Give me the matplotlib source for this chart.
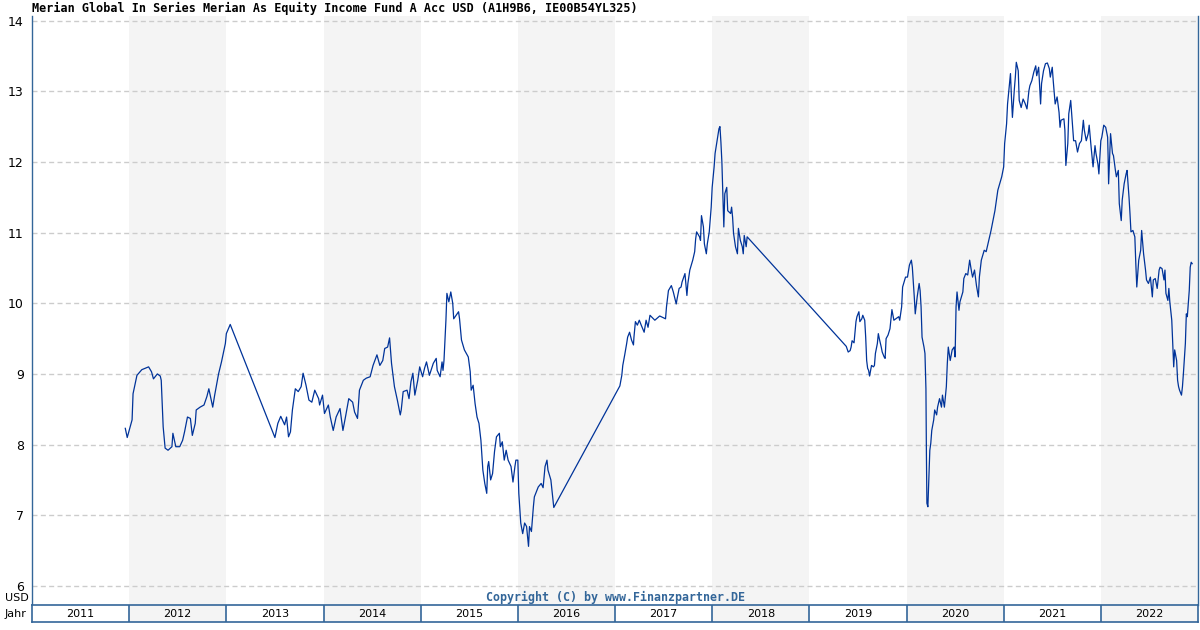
import matplotlib
matplotlib.use("Agg")
import matplotlib.pyplot as plt

TITLE = "Merian Global In Series Merian As Equity Income Fund A Acc USD (A1H9B6, IE00B54YL325)"
COPYRIGHT = "Copyright (C) by www.Finanzpartner.DE"
YEARS = [2011, 2012, 2013, 2014, 2015, 2016, 2017, 2018, 2019, 2020, 2021, 2022]
Y_TICKS = [6, 7, 8, 9, 10, 11, 12, 13, 14]

# price in USD against decimal year
dates = [
    2011.96, 2011.98, 2012.03, 2012.04, 2012.08, 2012.13, 2012.20, 2012.23, 2012.25, 2012.29,
    2012.32, 2012.33, 2012.35, 2012.37, 2012.40, 2012.44, 2012.45, 2012.48, 2012.52, 2012.55,
    2012.57, 2012.60, 2012.63, 2012.65, 2012.68, 2012.69, 2012.73, 2012.77, 2012.80, 2012.82,
    2012.86, 2012.88, 2012.92, 2012.95, 2012.99, 2013.00, 2013.04,
    2013.50, 2013.53, 2013.56, 2013.60, 2013.62, 2013.64, 2013.66, 2013.68, 2013.71, 2013.74,
    2013.77, 2013.79, 2013.82, 2013.85, 2013.88, 2013.91, 2013.95, 2013.96, 2013.99, 2014.01,
    2014.05, 2014.07, 2014.10, 2014.13, 2014.17, 2014.20, 2014.23, 2014.26, 2014.30, 2014.32,
    2014.35, 2014.37, 2014.41, 2014.44, 2014.48, 2014.51, 2014.55, 2014.58, 2014.61, 2014.63,
    2014.66, 2014.68, 2014.70, 2014.73, 2014.76, 2014.79, 2014.80, 2014.82, 2014.86, 2014.88,
    2014.90, 2014.92, 2014.94, 2014.97, 2014.99, 2015.02, 2015.04, 2015.06, 2015.09, 2015.13,
    2015.16, 2015.17, 2015.20, 2015.22, 2015.23, 2015.24, 2015.25, 2015.26, 2015.27, 2015.29,
    2015.31, 2015.33, 2015.34, 2015.39, 2015.40, 2015.42, 2015.45, 2015.49, 2015.51, 2015.52,
    2015.54, 2015.56, 2015.58, 2015.60, 2015.62, 2015.64, 2015.66, 2015.68, 2015.69, 2015.70,
    2015.72, 2015.74, 2015.76, 2015.78, 2015.81, 2015.82, 2015.84, 2015.86, 2015.88, 2015.90,
    2015.93, 2015.95, 2015.97, 2015.98, 2016.00, 2016.01, 2016.03, 2016.05, 2016.07, 2016.09,
    2016.11, 2016.12, 2016.14, 2016.16, 2016.17, 2016.21, 2016.24, 2016.26, 2016.28, 2016.30,
    2016.31, 2016.34, 2016.36, 2016.37,
    2017.05, 2017.07, 2017.08, 2017.10, 2017.12, 2017.13, 2017.15, 2017.17, 2017.19, 2017.195,
    2017.21, 2017.23, 2017.25, 2017.27, 2017.30, 2017.32, 2017.34, 2017.36, 2017.41, 2017.46,
    2017.52, 2017.53, 2017.55, 2017.58, 2017.60, 2017.63, 2017.64, 2017.66, 2017.68, 2017.69,
    2017.72, 2017.74, 2017.75, 2017.77, 2017.80, 2017.82, 2017.83, 2017.84, 2017.87, 2017.88,
    2017.89, 2017.91, 2017.92, 2017.94, 2017.95, 2017.97, 2017.99, 2018.00, 2018.02, 2018.03,
    2018.05, 2018.07, 2018.08, 2018.09, 2018.10, 2018.11, 2018.12, 2018.13, 2018.15, 2018.16,
    2018.19, 2018.20, 2018.21, 2018.22, 2018.24, 2018.26, 2018.27, 2018.29, 2018.31, 2018.32,
    2018.33, 2018.35, 2018.36,
    2019.38, 2019.40, 2019.42, 2019.43, 2019.44, 2019.46, 2019.47, 2019.48, 2019.49, 2019.51,
    2019.52, 2019.54, 2019.55, 2019.57, 2019.58, 2019.59, 2019.60, 2019.61, 2019.62, 2019.64,
    2019.66, 2019.67, 2019.68, 2019.70, 2019.71, 2019.72, 2019.74, 2019.75, 2019.77, 2019.78,
    2019.79, 2019.81, 2019.83, 2019.84, 2019.85, 2019.87, 2019.89, 2019.92, 2019.93, 2019.95,
    2019.96, 2019.99, 2020.01, 2020.03, 2020.05, 2020.06, 2020.08, 2020.09, 2020.11, 2020.13,
    2020.14, 2020.15, 2020.16, 2020.18, 2020.19, 2020.20, 2020.205, 2020.21, 2020.22, 2020.23,
    2020.24, 2020.25, 2020.26, 2020.28, 2020.29, 2020.31, 2020.32, 2020.34, 2020.36, 2020.37,
    2020.39, 2020.41, 2020.42, 2020.43, 2020.45, 2020.47, 2020.49, 2020.50, 2020.51, 2020.52,
    2020.54, 2020.55, 2020.58, 2020.59, 2020.61, 2020.63, 2020.65, 2020.67, 2020.68, 2020.70,
    2020.72, 2020.74, 2020.75, 2020.77, 2020.79, 2020.80, 2020.82, 2020.85, 2020.87, 2020.91,
    2020.94, 2020.98, 2021.00, 2021.01, 2021.03, 2021.04, 2021.06, 2021.07, 2021.08, 2021.09,
    2021.11, 2021.12, 2021.13, 2021.15, 2021.16, 2021.18, 2021.20, 2021.22, 2021.24, 2021.26,
    2021.27, 2021.29, 2021.31, 2021.33, 2021.34, 2021.36, 2021.38, 2021.39, 2021.41, 2021.43,
    2021.45, 2021.47, 2021.48, 2021.50, 2021.51, 2021.53, 2021.55, 2021.57, 2021.58, 2021.59,
    2021.62, 2021.63, 2021.64, 2021.66, 2021.67, 2021.69, 2021.71, 2021.72, 2021.74, 2021.76,
    2021.78, 2021.80, 2021.82, 2021.83, 2021.85, 2021.87, 2021.88, 2021.90, 2021.92, 2021.94,
    2021.95, 2021.97, 2021.98, 2022.00, 2022.01, 2022.03, 2022.05, 2022.07, 2022.075, 2022.08,
    2022.10, 2022.12, 2022.13, 2022.15, 2022.16, 2022.18, 2022.19, 2022.21, 2022.22, 2022.24,
    2022.26, 2022.27, 2022.29, 2022.30, 2022.31, 2022.33, 2022.35, 2022.36, 2022.37, 2022.39,
    2022.41, 2022.42, 2022.44, 2022.46, 2022.47, 2022.49, 2022.51, 2022.53, 2022.54, 2022.56,
    2022.58, 2022.60, 2022.61, 2022.63, 2022.65, 2022.66, 2022.67, 2022.69, 2022.70, 2022.71,
    2022.73, 2022.74, 2022.75, 2022.76, 2022.78, 2022.79, 2022.80, 2022.81, 2022.83, 2022.84,
    2022.85, 2022.87, 2022.88, 2022.89, 2022.91, 2022.92, 2022.93, 2022.94,
]
prices = [
    8.23, 8.10, 8.35, 8.72, 8.98, 9.06, 9.10, 9.03, 8.93, 9.00,
    8.97, 8.91, 8.25, 7.95, 7.92, 7.97, 8.16, 7.97, 7.97, 8.06,
    8.18, 8.39, 8.37, 8.13, 8.30, 8.49, 8.53, 8.56, 8.68, 8.79,
    8.53, 8.70, 9.00, 9.17, 9.43, 9.57, 9.70,
    8.10, 8.30, 8.40, 8.28, 8.39, 8.11, 8.18, 8.49, 8.79, 8.75,
    8.82, 9.01, 8.84, 8.63, 8.60, 8.77, 8.65, 8.56, 8.70, 8.44,
    8.56, 8.39, 8.20, 8.39, 8.51, 8.20, 8.42, 8.65, 8.60, 8.46,
    8.37, 8.77, 8.91, 8.94, 8.96, 9.12, 9.27, 9.12, 9.19, 9.36,
    9.38, 9.51, 9.15, 8.82, 8.63, 8.42, 8.49, 8.75, 8.77, 8.65,
    8.89, 9.01, 8.70, 8.91, 9.10, 8.96, 9.08, 9.17, 8.98, 9.15,
    9.22, 9.05, 8.96, 9.17, 9.05, 9.19, 9.48, 9.76, 10.14, 10.02,
    10.16, 10.00, 9.78, 9.88, 9.78, 9.48, 9.34, 9.24, 9.03, 8.77,
    8.84, 8.58, 8.39, 8.30, 8.06, 7.64, 7.45, 7.31, 7.69, 7.76,
    7.50, 7.59, 7.90, 8.11, 8.16, 7.97, 8.04, 7.78, 7.92, 7.78,
    7.69, 7.47, 7.69, 7.78, 7.78, 7.31, 6.89, 6.74, 6.89, 6.84,
    6.56, 6.84, 6.77, 7.12, 7.26, 7.40, 7.45, 7.39, 7.69, 7.78,
    7.64, 7.50, 7.24, 7.11,
    8.83, 8.98, 9.12, 9.27, 9.43, 9.52, 9.59, 9.48, 9.41, 9.52,
    9.74, 9.69, 9.76, 9.69, 9.59, 9.76, 9.66, 9.83, 9.76, 9.82,
    9.78, 9.95, 10.18, 10.25, 10.16, 9.99, 10.07, 10.21, 10.23, 10.30,
    10.42, 10.11, 10.28, 10.47, 10.61, 10.73, 10.91, 11.01, 10.94, 10.89,
    11.24, 11.08, 10.84, 10.70, 10.84, 11.01, 11.36, 11.64, 11.93, 12.12,
    12.30, 12.47, 12.50, 12.28, 12.00, 11.53, 11.08, 11.55, 11.64, 11.31,
    11.27, 11.36, 11.22, 10.99, 10.80, 10.70, 11.06, 10.89, 10.80, 10.70,
    10.96, 10.80, 10.94,
    9.39, 9.31, 9.33, 9.38, 9.47, 9.44, 9.59, 9.74, 9.81, 9.88,
    9.74, 9.78, 9.83, 9.76, 9.52, 9.19, 9.08, 9.05, 8.97, 9.12,
    9.10, 9.12, 9.29, 9.43, 9.57, 9.50, 9.38, 9.31, 9.24, 9.22,
    9.50, 9.55, 9.64, 9.78, 9.91, 9.76, 9.78, 9.81, 9.76, 9.95,
    10.23, 10.37, 10.37, 10.54, 10.61, 10.51, 10.09, 9.85, 10.09, 10.28,
    10.18, 9.95, 9.52, 9.38, 9.29, 8.79, 7.85, 7.17, 7.12, 7.50,
    7.92, 8.02, 8.20, 8.35, 8.49, 8.42, 8.53, 8.65, 8.53, 8.70,
    8.53, 8.82, 9.15, 9.38, 9.19, 9.34, 9.38, 9.24, 9.95, 10.16,
    9.90, 10.02, 10.16, 10.35, 10.42, 10.40, 10.61, 10.44, 10.37, 10.47,
    10.25, 10.09, 10.37, 10.61, 10.70, 10.75, 10.73, 10.91, 11.03, 11.31,
    11.60, 11.79, 11.93, 12.26, 12.54, 12.82, 13.11, 13.25, 12.92, 12.63,
    13.03, 13.20, 13.41, 13.29, 12.87, 12.77, 12.89, 12.83, 12.75, 13.01,
    13.08, 13.15, 13.27, 13.36, 13.22, 13.34, 12.82, 13.11, 13.29, 13.39,
    13.40, 13.32, 13.20, 13.34, 13.15, 12.82, 12.92, 12.70, 12.49, 12.59,
    12.61, 12.45, 11.95, 12.26, 12.68, 12.87, 12.49, 12.30, 12.30, 12.14,
    12.26, 12.30, 12.59, 12.45, 12.30, 12.40, 12.52, 12.21, 11.93, 12.23,
    12.12, 11.97, 11.83, 12.30, 12.35, 12.52, 12.49, 12.35, 12.07, 11.69,
    12.40, 12.12, 12.09, 11.88, 11.79, 11.88, 11.41, 11.17, 11.46, 11.69,
    11.83, 11.88, 11.50, 11.27, 11.01, 11.03, 10.94, 10.56, 10.23, 10.61,
    10.75, 11.03, 10.70, 10.47, 10.33, 10.28, 10.37, 10.09, 10.33, 10.35,
    10.21, 10.47, 10.51, 10.49, 10.33, 10.47, 10.14, 10.04, 10.21, 10.02,
    9.76, 9.43, 9.10, 9.34, 9.19, 8.91, 8.82, 8.77, 8.70, 8.82,
    9.01, 9.43, 9.85, 9.81, 10.18, 10.51, 10.58, 10.56,
]

FRAME = "#336699"
SHADE = "#f4f4f4"

fig = plt.figure(figsize=(12, 6.3), dpi=100)
ax = fig.add_axes([32 / 1200, 25 / 630, 1166 / 1200, 589 / 630])
band = fig.add_axes([32 / 1200, 8 / 630, 1166 / 1200, 17 / 630])

for a in (ax, band):
    a.set_xlim(2011, 2023)
    for y in YEARS:
        if (y - 2011) % 2 == 1:
            a.axvspan(y, y + 1, color=SHADE, lw=0, zorder=0)

ax.set_ylim(5.73, 14.065)
ax.set_yticks(Y_TICKS)
ax.set_yticklabels([str(t) for t in Y_TICKS], fontsize=9, family="DejaVu Sans")
ax.tick_params(axis="y", length=0, pad=6)
ax.set_xticks([])
ax.grid(axis="y", color="#cccccc", linestyle=(0, (3.6, 2.4)), linewidth=1)
ax.set_axisbelow(True)
for s in ("top", "bottom"):
    ax.spines[s].set_visible(False)
for s in ("left", "right"):
    ax.spines[s].set_color(FRAME)
    ax.spines[s].set_linewidth(1)

ax.plot(dates, prices, color="#003399", linewidth=0.9, zorder=3)

ax.text(2017.0, 5.83, COPYRIGHT, ha="center", va="center", fontsize=8.4,
        family="DejaVu Sans Mono", fontweight="bold", color=FRAME)
ax.text(-0.003, 5.83, "USD", transform=ax.get_yaxis_transform(), ha="right",
        va="center", fontsize=8, family="DejaVu Sans")

band.set_ylim(0, 1)
band.set_xticks([])
band.set_yticks([])
for s in band.spines.values():
    s.set_color(FRAME)
    s.set_linewidth(1.2)
for y in YEARS[1:]:
    band.axvline(y, color=FRAME, linewidth=1.2)
for y in YEARS:
    band.text(y + 0.5, 0.45, str(y), ha="center", va="center", fontsize=8,
              family="DejaVu Sans")
band.text(-0.005, 0.45, "Jahr", transform=band.transAxes, ha="right", va="center",
          fontsize=8, family="DejaVu Sans")

fig.text(32 / 1200, 1 - 8 / 630, TITLE, ha="left", va="center", fontsize=8.45,
         family="DejaVu Sans Mono", fontweight="bold")

fig.savefig("out.png", dpi=100, facecolor="white")
